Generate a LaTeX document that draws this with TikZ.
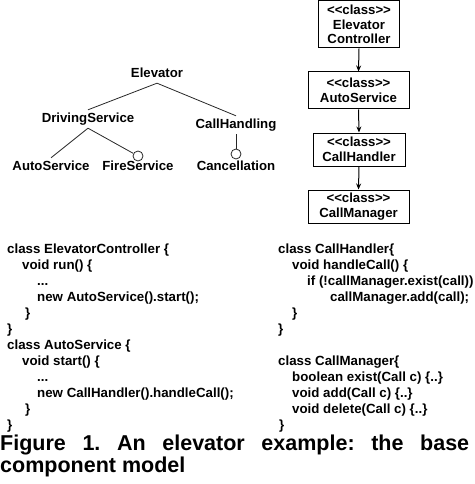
\documentclass[tikz,border=0pt]{standalone}
\usepackage{fontspec}
\setmainfont{Liberation Sans}
\usetikzlibrary{arrows.meta}
\newcommand{\lt}{<\kern0pt<}
\newcommand{\gtt}{>\kern0pt>}
\begin{document}
\frenchspacing
\begin{tikzpicture}[x=1pt,y=-1pt,
  lbl/.style={font=\bfseries\fontsize{13.2}{14.5}\selectfont, inner sep=3pt, text height=9.5pt, text depth=2.5pt},
  cls/.style={draw, line width=1pt, font=\bfseries\fontsize{13.2}{14.5}\selectfont, align=center, inner sep=0pt},
  codetxt/.style={font=\bfseries\fontsize{13.3}{15}\selectfont, inner sep=0pt, anchor=base west},
  captxt/.style={font=\bfseries\fontsize{21.5}{23}\selectfont, inner sep=0pt, anchor=base west},
  arr/.style={-{Stealth[length=6pt,width=5pt]}, line width=1pt},
  link/.style={line width=0.8pt, draw=black!85},
  ball/.style={circle, draw=black!85, minimum size=10pt, inner sep=0pt, line width=0.8pt}]
\useasboundingbox (0,0) rectangle (474,484);

% feature tree
\node[lbl] (elev) at (157,74) {Elevator};
\node[lbl] (ds) at (88,119) {DrivingService};
\node[lbl] (ch) at (236,125) {CallHandling};
\node[lbl] (as) at (51,167) {AutoService};
\node[lbl] (fs) at (138,167) {FireService};
\node[lbl] (ca) at (236,167) {Cancellation};
\node[ball] (fsc) at (138,156) {};
\node[ball] (cac) at (236,154) {};
\draw[link] (elev.south) -- (ds.north);
\draw[link] (elev.south) -- (ch.north);
\draw[link] (ds.south) -- (as.north);
\draw[link] (ds.south) -- (fsc);
\draw[link] (ch.south) -- (cac);

% class boxes
\node[cls, minimum width=81pt, minimum height=47pt] (b1) at (359,24.5) {\lt class\gtt\\Elevator\\Controller};
\node[cls, minimum width=101pt, minimum height=37pt] (b2) at (358.5,90.5) {\lt class\gtt\\AutoService};
\node[cls, minimum width=92pt, minimum height=33pt] (b3) at (359,149.5) {\lt class\gtt\\CallHandler};
\node[cls, minimum width=101pt, minimum height=33pt] (b4) at (358.5,206.5) {\lt class\gtt\\CallManager};
\draw[arr] (b1.south) -- (b2.north);
\draw[arr] (b2.south) -- (b3.north);
\draw[arr] (b3.south) -- (b4.north);

% left code
\node[codetxt] (l0) at (7,253.5) {class ElevatorController \{};
\node[codetxt] (l1) at (22,269.5) {void run() \{};
\node[codetxt] (l2) at (37,285.5) {...};
\node[codetxt] (l3) at (37,301.5) {new AutoService().start();};
\node[codetxt] (l4) at (25,317.5) {\}};
\node[codetxt] (l5) at (7,333.5) {\}};
\node[codetxt] (l6) at (7,349.5) {class AutoService \{};
\node[codetxt] (l7) at (22,365.5) {void start() \{};
\node[codetxt] (l8) at (37,381.5) {...};
\node[codetxt] (l9) at (37,397.5) {new CallHandler().handleCall();};
\node[codetxt] (l10) at (25,413.5) {\}};
\node[codetxt] (l11) at (7,429.5) {\}};

% right code
\node[codetxt] (r0) at (278,253) {class CallHandler\{};
\node[codetxt] (r1) at (292,269) {void handleCall() \{};
\node[codetxt] (r2) at (307,285) {if (!callManager.exist(call))};
\node[codetxt] (r3) at (330,301) {callManager.add(call);};
\node[codetxt] (r4) at (292,317) {\}};
\node[codetxt] (r5) at (278,333) {\}};
\node[codetxt] (r6) at (278,365) {class CallManager\{};
\node[codetxt] (r7) at (292,381) {boolean exist(Call c) \{..\}};
\node[codetxt] (r8) at (292,397) {void add(Call c) \{..\}};
\node[codetxt] (r9) at (292,413) {void delete(Call c) \{..\}};
\node[codetxt] (r10) at (279,429) {\}};

% caption
\node[captxt] (c1) at (0,450) {\makebox[469pt][s]{Figure 1. An elevator example: the base}};
\node[captxt] (c2) at (0,472) {component model};
\end{tikzpicture}
\end{document}
